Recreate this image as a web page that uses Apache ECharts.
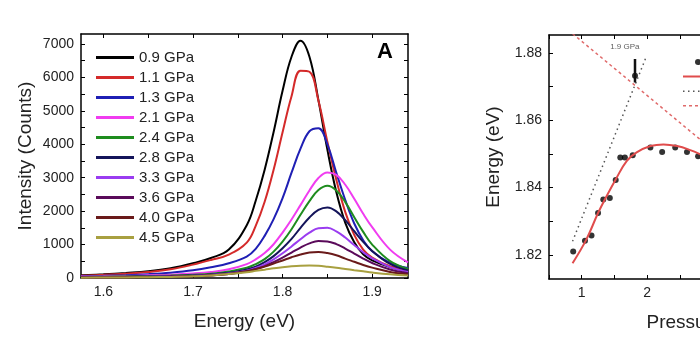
<!DOCTYPE html>
<html>
<head>
<meta charset="utf-8">
<script src="https://cdn.jsdelivr.net/npm/echarts@6/dist/echarts.min.js"></script>
<style>html,body{margin:0;padding:0;background:#fff}#chart{width:700px;height:350px}</style>
</head>
<body>
<div id="chart"></div>
<script>
var chart = echarts.init(document.getElementById('chart'), null, {renderer: 'canvas'});
var font = 'Liberation Sans, Arial, sans-serif';

// panel A: spectra, intensity (counts) at each energy (eV)
var energy = [1.575, 1.60, 1.625, 1.65, 1.675, 1.70, 1.72, 1.74, 1.76, 1.77, 1.78, 1.79, 1.80, 1.81, 1.82, 1.83, 1.84, 1.85, 1.86, 1.87, 1.88, 1.89, 1.90, 1.92, 1.94];
var p09 = [80, 110, 150, 200, 290, 440, 600, 850, 1580, 2310, 3240, 4370, 5600, 6620, 7100, 6620, 5320, 3840, 2570, 1650, 1070, 710, 525, 330, 225];
var p11 = [70, 95, 130, 180, 260, 400, 540, 700, 1060, 1560, 2280, 3240, 4360, 5440, 6200, 6170, 5310, 4080, 2940, 1970, 1290, 850, 610, 350, 240];
var p13 = [50, 65, 85, 115, 160, 230, 320, 440, 640, 870, 1260, 1760, 2390, 3150, 3870, 4390, 4480, 4000, 3150, 2330, 1630, 1130, 800, 450, 300];
var p21 = [45, 50, 60, 80, 100, 135, 180, 260, 415, 555, 745, 1010, 1360, 1750, 2180, 2620, 2990, 3160, 3085, 2790, 2370, 1920, 1520, 850, 465];
var p24 = [32, 38, 47, 58, 75, 100, 130, 195, 305, 415, 565, 790, 1090, 1460, 1890, 2300, 2630, 2760, 2620, 2270, 1820, 1380, 1000, 505, 270];
var p28 = [25, 30, 37, 47, 60, 80, 105, 155, 255, 340, 475, 655, 890, 1170, 1500, 1810, 2035, 2110, 1995, 1730, 1400, 1080, 810, 420, 225];
var p33 = [20, 24, 29, 37, 48, 66, 90, 135, 220, 300, 410, 560, 740, 945, 1160, 1355, 1490, 1500, 1395, 1210, 985, 770, 590, 325, 180];
var p36 = [18, 21, 25, 32, 42, 57, 80, 119, 203, 270, 355, 475, 610, 760, 910, 1035, 1105, 1095, 1015, 880, 730, 580, 450, 255, 145];
var p40 = [15, 18, 22, 28, 37, 53, 75, 120, 200, 260, 340, 430, 525, 620, 705, 765, 780, 745, 680, 580, 485, 390, 310, 180, 108];
var p45 = [11, 14, 18, 24, 33, 51, 78, 120, 175, 213, 250, 290, 325, 352, 370, 375, 365, 340, 310, 272, 235, 200, 165, 110, 72];
var spectra = [p09, p11, p13, p21, p24, p28, p33, p36, p40, p45];
var pressureNames = ['0.9 GPa', '1.1 GPa', '1.3 GPa', '2.1 GPa', '2.4 GPa', '2.8 GPa', '3.3 GPa', '3.6 GPa', '4.0 GPa', '4.5 GPa'];
var colors = ['#000000', '#d42a2a', '#1f1fb4', '#f03cf0', '#1e8c1e', '#14145a', '#9a3cf0', '#5a0a5a', '#6a1a1a', '#a8a040'];

var xTicksA = [1.6, 1.65, 1.7, 1.75, 1.8, 1.85, 1.9];
var xLabelsA = [1.6, 1.7, 1.8, 1.9];
var yTicksA = [0, 500, 1000, 1500, 2000, 2500, 3000, 3500, 4000, 4500, 5000, 5500, 6000, 6500, 7000];
var yLabelsA = [0, 1000, 2000, 3000, 4000, 5000, 6000, 7000];

// panel B: peak energy vs pressure
var dataP = [0.87, 1.05, 1.15, 1.25, 1.33, 1.43, 1.52, 1.59, 1.66, 1.78, 2.05, 2.23, 2.43, 2.61, 2.78, 1.815];
var dataE = [1.821, 1.8242, 1.8257, 1.8324, 1.8364, 1.8369, 1.8422, 1.8489, 1.8489, 1.8496, 1.8519, 1.8505, 1.8519, 1.8505, 1.8493, 1.8732];
var fitP = [0.86, 1.07, 1.25, 1.38, 1.52, 1.69, 1.84, 2.05, 2.25, 2.46, 2.66, 2.82, 2.9];
var fitE = [1.8175, 1.8245, 1.8324, 1.8374, 1.8424, 1.8479, 1.8504, 1.8523, 1.8528, 1.8523, 1.8511, 1.8498, 1.849];
var lowP = [0.86, 1.98];
var lowE = [1.824, 1.8785];
var highP = [0.86, 3.2];
var highE = [1.8857, 1.848];
var barP = [1.815, 1.815];
var barE = [1.8712, 1.8782];
var noteP = [1.66];
var noteE = [1.8818];

var xTicksB = [0.5, 1, 1.5, 2, 2.5, 3, 3.5, 4, 4.5, 5, 5.5];
var xLabelsB = [1, 2, 3, 4, 5];
var yTicksB = [1.82, 1.83, 1.84, 1.85, 1.86, 1.87, 1.88];
var yLabelsB = [1.82, 1.84, 1.86, 1.88];

function zip(a, b) {
    return a.map(function (v, i) { return [v, b[i]]; });
}

var axisLine = {show: true, onZero: false, lineStyle: {color: '#000', width: 1.5}};
var labelStyle = {fontSize: 14, color: '#222', fontFamily: font};
var nameStyle = {fontSize: 19, color: '#222', fontFamily: font};

function axis(grid, min, max, pos, ticks, labels, digits, name, gap) {
    var a = {
        gridIndex: grid, type: 'value', min: min, max: max, position: pos,
        axisLine: axisLine,
        axisTick: {show: true, inside: true, length: 4, customValues: ticks, lineStyle: {color: '#000', width: 1}},
        splitLine: {show: false}
    };
    if (labels) {
        a.axisLabel = Object.assign({customValues: labels, margin: 7, formatter: function (v) { return v.toFixed(digits); }}, labelStyle);
    } else {
        a.axisLabel = {show: false};
    }
    if (name) {
        a.name = name;
        a.nameLocation = 'middle';
        a.nameGap = gap;
        a.nameTextStyle = nameStyle;
    }
    return a;
}

var series = spectra.map(function (arr, i) {
    return {
        name: pressureNames[i], type: 'line', xAxisIndex: 0, yAxisIndex: 0,
        data: zip(energy, arr), symbol: 'none', smooth: 0.4,
        lineStyle: {width: 2, color: colors[i]}, itemStyle: {color: colors[i]}
    };
});

series.push({
    name: 'High-pressure extrapolation', type: 'line', xAxisIndex: 2, yAxisIndex: 2,
    data: zip(highP, highE), symbol: 'none',
    lineStyle: {width: 1.5, color: '#e06a6a', type: [3, 3]}, itemStyle: {color: '#e06a6a'}
});
series.push({
    name: 'Low-pressure extrapolation', type: 'line', xAxisIndex: 2, yAxisIndex: 2,
    data: zip(lowP, lowE), symbol: 'none',
    lineStyle: {width: 1.5, color: '#555', type: [1.5, 3.5]}, itemStyle: {color: '#555'}
});
series.push({
    name: 'Fit', type: 'line', xAxisIndex: 2, yAxisIndex: 2,
    data: zip(fitP, fitE), symbol: 'none', smooth: 0.4,
    lineStyle: {width: 2, color: '#e04c4c'}, itemStyle: {color: '#e04c4c'}
});
series.push({
    name: 'bar', type: 'line', xAxisIndex: 2, yAxisIndex: 2,
    data: zip(barP, barE), symbol: 'none',
    lineStyle: {width: 2.5, color: '#111'}
});
series.push({
    name: 'Experiment', type: 'scatter', xAxisIndex: 2, yAxisIndex: 2,
    data: zip(dataP, dataE), symbolSize: 6, itemStyle: {color: '#000'}
});
series.push({
    name: 'note', type: 'scatter', xAxisIndex: 2, yAxisIndex: 2,
    data: zip(noteP, noteE), symbolSize: 0,
    label: {show: true, position: 'inside', formatter: '1.9 GPa', fontSize: 8, color: '#333', fontFamily: font}
});

// legend icons for panel B: 30x6 boxes with thin strokes inside
var corner = 'M0,0h0.01v0.01h-0.01z M29.99,5.99h0.01v0.01h-0.01z ';
var solidIcon = 'path://' + corner + 'M0,2h30v2h-30z';
var dotIcon = 'path://' + corner + 'M0,2.5h1.5v1.5h-1.5z M5,2.5h1.5v1.5h-1.5z M10,2.5h1.5v1.5h-1.5z M15,2.5h1.5v1.5h-1.5z M20,2.5h1.5v1.5h-1.5z M25,2.5h1.5v1.5h-1.5z';
var dashIcon = 'path://' + corner + 'M0,2.5h3v1.5h-3z M6,2.5h3v1.5h-3z M12,2.5h3v1.5h-3z M18,2.5h3v1.5h-3z M24,2.5h3v1.5h-3z';

var option = {
    animation: false,
    backgroundColor: '#fff',
    title: {text: 'A', left: 377, top: 41, padding: 0, textStyle: {fontSize: 22, fontWeight: 'bold', color: '#000', fontFamily: font}},
    grid: [
        {left: 81, top: 34, width: 327, height: 244, outerBoundsMode: 'none'},
        {left: 549, top: 35, right: -176, height: 244, outerBoundsMode: 'none'}
    ],
    xAxis: [
        axis(0, 1.575, 1.94, 'bottom', xTicksA, xLabelsA, 1, 'Energy (eV)', 34),
        axis(0, 1.575, 1.94, 'top', xTicksA, null),
        axis(1, 0.5, 5.5, 'bottom', xTicksB, xLabelsB, 0, 'Pressure (GPa)', 34),
        axis(1, 0.5, 5.5, 'top', xTicksB, null)
    ],
    yAxis: [
        axis(0, 0, 7300, 'left', yTicksA, yLabelsA, 0, 'Intensity (Counts)', 46),
        axis(0, 0, 7300, 'right', yTicksA, null),
        axis(1, 1.8128, 1.8853, 'left', yTicksB, yLabelsB, 2, 'Energy (eV)', 46),
        axis(1, 1.8128, 1.8853, 'right', yTicksB, null)
    ],
    legend: [
        {
            data: pressureNames, orient: 'vertical', left: 96, top: 50, padding: 0,
            icon: 'rect', itemWidth: 38, itemHeight: 3, itemGap: 5, selectedMode: false,
            textStyle: {fontSize: 15, lineHeight: 15, color: '#222', fontFamily: font}
        },
        {
            data: [
                {name: 'Experiment', icon: 'circle'},
                {name: 'Fit', icon: solidIcon},
                {name: 'Low-pressure extrapolation', icon: dotIcon},
                {name: 'High-pressure extrapolation', icon: dashIcon}
            ],
            orient: 'vertical', left: 683, top: 57, padding: 0,
            itemWidth: 30, itemHeight: 6, itemGap: 4.5, selectedMode: false,
            textStyle: {fontSize: 10, lineHeight: 10, color: '#222', fontFamily: font}
        }
    ],
    series: series
};

chart.setOption(option);
</script>
</body>
</html>
